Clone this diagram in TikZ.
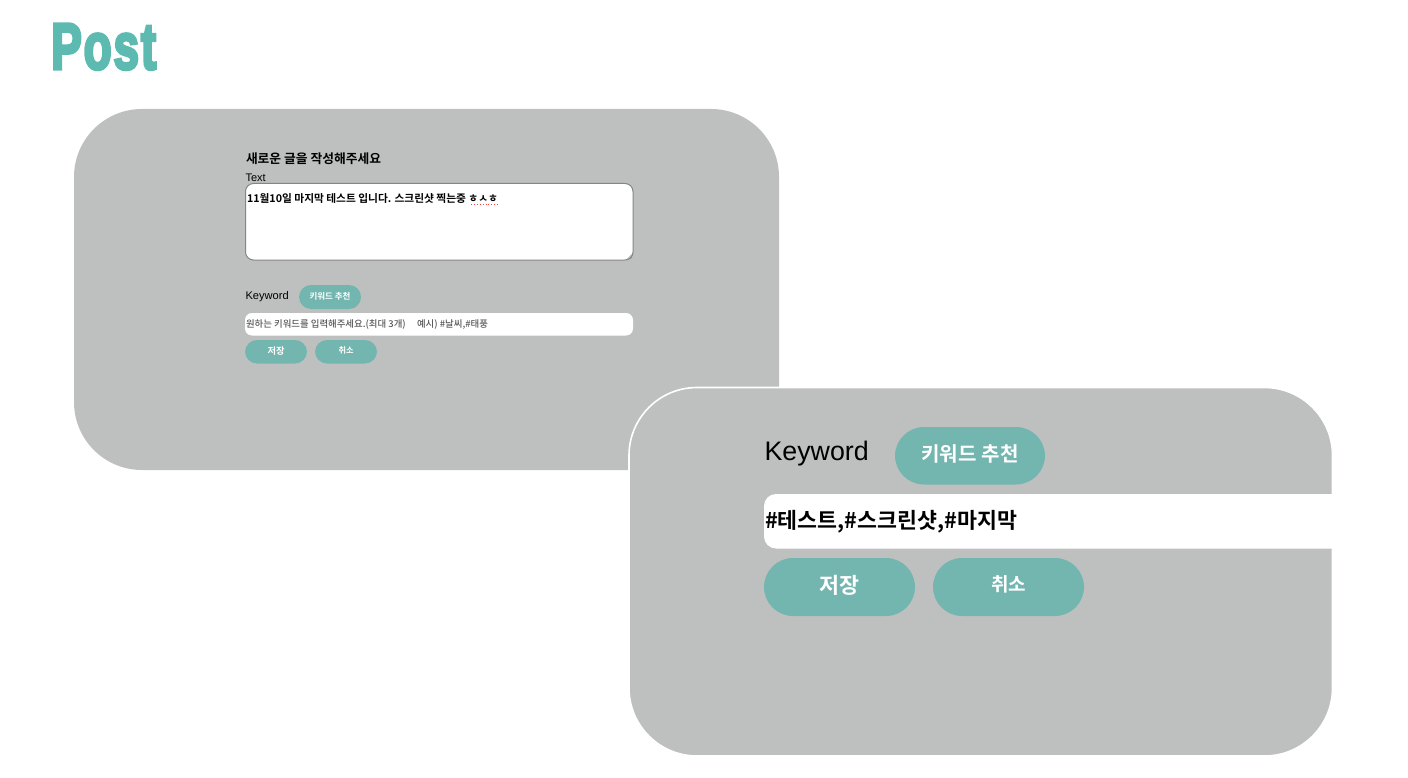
\documentclass[tikz,border=0pt]{standalone}
\usepackage{fontspec}
\usepackage{graphicx}
\setmainfont{Liberation Sans}
\newfontfamily\kr{Noto Sans CJK KR Bold}
\newfontfamily\krm{Noto Sans CJK KR Medium}
\newfontfamily\postfont[FakeBold=5,LetterSpace=4]{Liberation Sans Bold}
\definecolor{panelgrey}{HTML}{BEC0BF}
\definecolor{btnteal}{HTML}{73B6B0}
\definecolor{postteal}{HTML}{5DBAB0}
\definecolor{boxedge}{HTML}{858585}
\newcommand{\fitw}[2]{\resizebox{#1pt}{!}{#2}}
\tikzset{
  panel/.style={fill=panelgrey,rounded corners=68pt},
  lab/.style={anchor=base west,inner sep=0pt,outer sep=0pt,text=black},
  pill/.style={fill=btnteal,rounded corners=#1},
  pilltext/.style={anchor=center,inner sep=0pt,outer sep=0pt,text=white},
  field/.style={fill=white,rounded corners=#1}
}
\begin{document}
\begin{tikzpicture}[x=1pt,y=-1pt]
\useasboundingbox (0,0) rectangle (1408,778);
\fill[white] (0,0) rectangle (1408,778);
% title
\node[anchor=base west,inner sep=0pt,text=postteal] (post) at (51,69)
  {\resizebox{105pt}{45pt}{\postfont Post}};
% back panel
\fill[panel] (74,109) rectangle (779,470);
\node[lab] (title) at (246,163.5) {\fitw{135}{\kr 새로운 글을 작성해주세요}};
\node[lab] (textlab) at (245.5,182) {\fontsize{11}{13}\selectfont Text};
\draw[field=8pt,draw=boxedge,line width=1pt] (245.5,183.5) rectangle (633,260);
\node[lab] (body) at (247,202.5) {\fitw{251}{\kr 11월10일 마지막 테스트 입니다. 스크린샷 찍는중 ㅎㅅㅎ}};
\draw[red!75,line width=0.9pt,dotted] (471,204.5) -- (497.5,204.5);
\draw[boxedge,line width=0.6pt] (627.5,259) -- (632,254.5) (630,259) -- (632,257);
\node[lab] (kw) at (245.5,299.5) {\fontsize{11.1}{13}\selectfont Keyword};
\fill[pill=12pt] (299,285) rectangle (361,309);
\node[pilltext] (kwbtn) at (330,296.5) {\fitw{41}{\kr 키워드 추천}};
\fill[field=7pt] (245,313) rectangle (633,335.5);
\node[lab] (hint) at (246,327.5) {\color{black!65}\fitw{242}{\krm 원하는 키워드를 입력해주세요.(최대 3개)\hspace{1.2em}예시) \#날씨,\#태풍}};
\fill[pill=12pt] (245,340) rectangle (307,363.5);
\node[pilltext] (save) at (276,351) {\fitw{17}{\kr 저장}};
\fill[pill=12pt] (315,340) rectangle (377,363.5);
\node[pilltext] (cancel) at (346,350.5) {\fitw{15}{\kr 취소}};
% front panel
\filldraw[panel,draw=white,line width=1.6pt] (629,387.5) rectangle (1332.5,756);
\node[lab] (kw2) at (764.5,460) {\fontsize{26.8}{30}\selectfont Keyword};
\fill[pill=29pt] (895,427) rectangle (1045,484.5);
\node[pilltext] (kwbtn2) at (970,453.5) {\fitw{97}{\kr 키워드 추천}};
\begin{scope}
  \clip (764,494) rectangle (1332.5,548.5);
  \fill[field=12pt] (764,494) rectangle (1400,548.5);
\end{scope}
\node[lab] (tags) at (765,528) {\fitw{252}{\kr \#테스트,\#스크린샷,\#마지막}};
\fill[pill=29pt] (764,558) rectangle (915,616);
\node[pilltext] (save2) at (839.5,585.5) {\fitw{40}{\kr 저장}};
\fill[pill=29pt] (933,558) rectangle (1084,616);
\node[pilltext] (cancel2) at (1008.5,584) {\fitw{35}{\kr 취소}};
\end{tikzpicture}
\end{document}
